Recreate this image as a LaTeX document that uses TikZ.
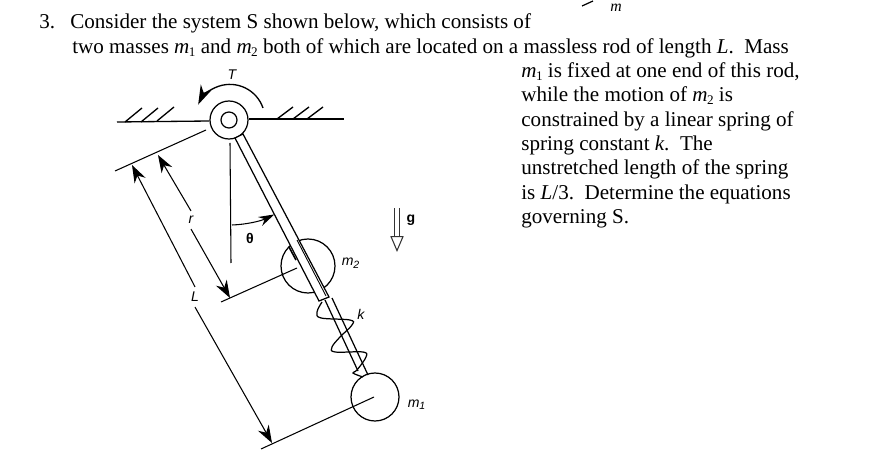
\documentclass[tikz,border=0pt]{standalone}
\usepackage{fontspec}
\setmainfont{Liberation Serif}
\setsansfont{Liberation Sans}
\usetikzlibrary{arrows.meta}
\newcommand{\lowidx}[1]{\kern-0.3pt\raisebox{-0.25ex}{\fontsize{7.5}{8}\selectfont #1}}
\begin{document}
\begin{tikzpicture}[
  x=0.02cm, y=-0.02cm,
  every node/.style={inner sep=0pt},
  prose/.style={font=\fontsize{12}{13.6}\selectfont, anchor=base west},
  tag/.style={font=\fontsize{8}{9}\selectfont\sffamily\itshape},
  plaintag/.style={font=\fontsize{8}{9}\selectfont\sffamily\bfseries},
  wall/.style={line width=0.75pt},
  dim/.style={line width=0.6pt},
  dimtip/.style={-{Stealth[length=10pt,width=7pt]}, line width=0.6pt},
  part/.style={line width=0.7pt}
]
\useasboundingbox (0,0) rectangle (891,465);
% problem text
\node[prose] (fig) at (610,12) {\fontsize{9}{10}\selectfont\itshape m};
\node[prose] (numline) at (39,29) {3.};
\node[prose] (lineA) at (70,29) {Consider the system S shown below, which consists of};
\node[prose] (lineB) at (72,54) {two masses \textit{m}\lowidx{1} and \textit{m}\lowidx{2} both of which are located on a massless rod of length \textit{L}.\ \ Mass};
\node[prose] (lineC) at (521,78) {\textit{m}\lowidx{1} is fixed at one end of this rod,};
\node[prose] (lineD) at (521,102) {while the motion of \textit{m}\lowidx{2} is};
\node[prose] (lineE) at (521,127) {constrained by a linear spring of};
\node[prose] (lineF) at (521,151) {spring constant \textit{k}.\ \ The};
\node[prose] (lineG) at (521,175) {unstretched length of the spring};
\node[prose] (lineH) at (521,200) {is \textit{L}/3.\ \ Determine the equations};
\node[prose] (lineI) at (521,224) {governing S.};
\draw[part] (582,6) -- (593,1);
% masses and rod
\coordinate (pivot) at (229,120);
\node[draw, circle, part, minimum size=38*0.02cm, fill=white] (hub) at (pivot) {};
\node[draw, circle, part, minimum size=16*0.02cm] (pin) at (pivot) {};
\node[draw, circle, part, minimum size=54*0.02cm] (masstwo) at (308,266) {};
\node[draw, circle, part, minimum size=48*0.02cm] (massone) at (375,397) {};
\draw[part, fill=white] (235,138) -- (319,301) -- (329,297) -- (243,134) -- cycle;
\draw[line width=0.5pt] (297,240) -- (326,296);
\draw[line width=0.9pt] (289,247) -- (296,260);
\draw[part] (325,300) -- (358,371);
\draw[part] (332,298) -- (368,375);
% spring
\draw[part] plot[smooth, tension=0.6] coordinates {(322,302) (317,312) (321,318) (350,320) (352,325) (340,337) (332,347) (335,352) (363,352) (366,357) (357,370) (353,373) (363,377)};
% walls
\draw[wall] (117,122) -- (hub.west |- 0,121);
\draw[wall] (hub.east |- 0,119) -- (344,119);
\foreach \hx/\hy in {125/122,141/122,157/121} \draw[wall] (\hx,\hy) -- ++(17,-14);
\foreach \hx/\hy in {277/119,293/119,307/119} \draw[wall] (\hx,\hy) -- ++(16,-12);
% torque
\draw[wall, -{Stealth[length=11pt,width=7pt]}] (263,108) arc[start angle=-19, end angle=-155, radius=35];
\node[tag] (torque) at (232,75) {T};
% dimensions
\coordinate (baseA) at (115,171);
\coordinate (baseB) at (206,130);
\draw[dim] (baseA) -- (baseB);
\draw[dim] (221,302) -- (297,268);
\draw[dim] (261,449) -- (374,397);
\node[tag, outer sep=3pt] (rlabel) at (191,220) {r};
\node[tag, outer sep=3pt] (Llabel) at (195,297) {L};
\draw[dimtip] (rlabel.north) -- (158,155);
\draw[dimtip] (rlabel.south) -- (230,298);
\draw[dimtip] (Llabel.north) -- (132,165);
\draw[dimtip] (Llabel.south) -- (272,443);
% angle
\draw[dim] (230,143) -- (231,263);
\draw[dim, -{Stealth[length=9pt,width=5.5pt]}] (232,225) arc[start angle=88, end angle=64, radius=105];
\node[plaintag] (thetalabel) at (250,238) {θ};
% labels
\node[tag] (mtwo) at (351,263) {m\textsubscript{2}};
\node[tag] (mone) at (417,405) {m\textsubscript{1}};
\node[tag] (klabel) at (361,314) {k};
\node[plaintag] (glabel) at (411,220) {g};
\draw[line width=0.6pt, draw=black!80, double, double distance=2pt, -{Triangle[open,length=9pt,width=7.5pt]}] (397,208) -- (397,252);
\end{tikzpicture}
\end{document}
